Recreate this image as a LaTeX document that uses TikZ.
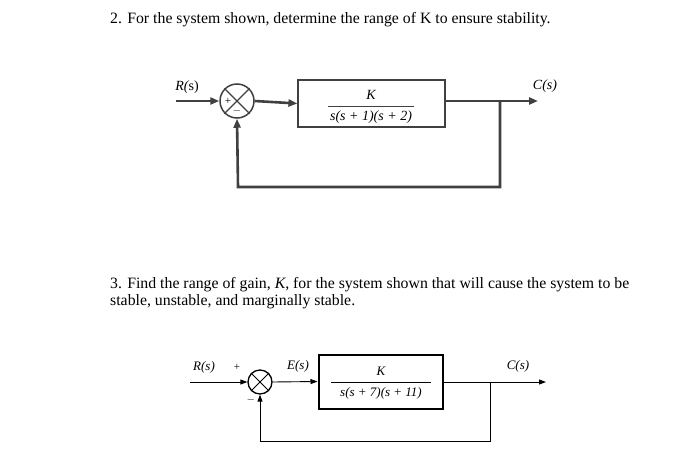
\documentclass[tikz,border=0pt]{standalone}
\usepackage{fontspec}
\setmainfont{Liberation Serif}
\usetikzlibrary{arrows.meta}
\begin{document}
\begin{tikzpicture}[x=1pt,y=-1pt,
 q/.style={font=\fontsize{15.8}{18}\selectfont,anchor=west,inner sep=0},
 lab/.style={font=\fontsize{13}{15}\selectfont\itshape,inner sep=0},
 w1/.style={line width=2.6pt,draw=black!75},
 w2/.style={line width=0.9pt},
 a1/.style={-{Triangle[length=9pt,width=7pt]}},
 a2/.style={-{Triangle[length=7pt,width=5pt]}}]
\useasboundingbox (0,0) rectangle (700,460);
\node[q] (t2) at (110,20) {2. For the system shown, determine the range of K to ensure stability.};
\node[q] (t3a) at (110,285) {3. Find the range of gain, \textit{K}, for the system shown that will cause the system to be};
\node[q] (t3b) at (110,302) {stable, unstable, and marginally stable.};
% diagram 1
\coordinate (in1) at (176,101);
\node[circle,draw=black!75,line width=1.5pt,minimum size=34pt,inner sep=0] (s1) at (237,101) {};
\draw[black!75,line width=1.2pt] (s1.north west)--(s1.south east) (s1.north east)--(s1.south west);
\node[font=\fontsize{11}{11}\selectfont,inner sep=0] at (228,101) {+};
\node[font=\fontsize{11}{11}\selectfont,inner sep=0] at (237,111) {$-$};
\node[draw=black!75,line width=1.2pt,minimum width=147pt,minimum height=47pt,inner sep=0] (g1) at (371.5,103.5) {};
\node[lab,font=\fontsize{14}{16}\selectfont\itshape] (k1) at (371,95) {K};
\node[lab,font=\fontsize{14}{16}\selectfont\itshape] (d1) at (371,117) {s(s + 1)(s + 2)};
\draw[black!75,line width=0.8pt] (328,106)--(414,106);
\node[lab,font=\fontsize{14}{16}\selectfont\itshape] (r1) at (187,87) {R(\upshape s)};
\node[lab,font=\fontsize{14}{16}\selectfont\itshape] (c1) at (545,86) {C(\textit{s})};
\coordinate (o1) at (538,101);
\coordinate (b1) at (500,101);
\draw[w1,a1] (in1)--(s1.west);
\draw[w1,a1] (s1.east)--(g1.west);
\draw[w1,a1] (g1.east|-b1)--(o1);
\draw[w1,a1] (b1)--(500,187)--(238,187)--(s1.south);
% diagram 2
\coordinate (in2) at (190,382);
\node[circle,draw,line width=1.3pt,minimum size=24pt,inner sep=0] (s2) at (260,382) {};
\draw[line width=1pt] (s2.north west)--(s2.south east) (s2.north east)--(s2.south west);
\node[draw,line width=2pt,minimum width=124pt,minimum height=54pt,inner sep=0] (g2) at (380.5,381.5) {};
\node[lab] (k2) at (381,371) {K};
\node[lab] (d2) at (381,393) {s(s + 7)(s + 11)};
\draw[line width=0.6pt] (331,382)--(431,382);
\node[lab] (r2) at (204,367) {R(s)};
\node[font=\fontsize{11}{11}\selectfont,inner sep=0] (p2) at (237,367) {+};
\node[font=\fontsize{11}{11}\selectfont,inner sep=0] (m2) at (251,400) {$-$};
\node[lab] (e2) at (298,366) {E(s)};
\node[lab] (c2) at (518,366) {C(s)};
\coordinate (o2) at (546,382);
\coordinate (b2) at (490,382);
\draw[w2,a2] (in2)--(s2.west);
\draw[w2,a2] (s2.east)--(g2.west);
\draw[w2,a2] (g2.east|-b2)--(o2);
\draw[w2,a2] (b2)--(490,441)--(260,441)--(s2.south);
\end{tikzpicture}
\end{document}
